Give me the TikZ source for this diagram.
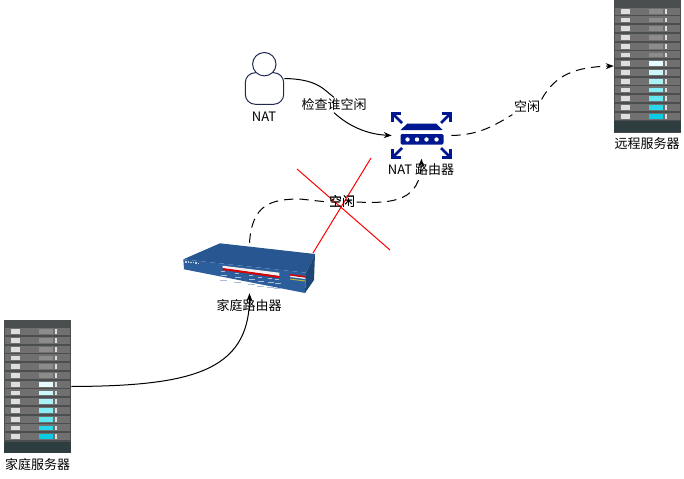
\documentclass[tikz,border=0pt]{standalone}
\usepackage{fontspec}
\setmainfont{Noto Sans CJK SC}
\usetikzlibrary{arrows.meta}

\definecolor{rackbody}{HTML}{4A4E4E}
\definecolor{rackrow}{HTML}{707070}
\definecolor{rackfoot}{HTML}{2E3D3F}
\definecolor{rackdim}{HTML}{8C8C8C}
\definecolor{rackwhite}{HTML}{DEDEDE}
\definecolor{lita}{HTML}{E4FCFE}
\definecolor{litb}{HTML}{CCF8FB}
\definecolor{litc}{HTML}{ABF2F6}
\definecolor{litd}{HTML}{84EEF4}
\definecolor{lite}{HTML}{62E6F0}
\definecolor{litf}{HTML}{2AD6EC}
\definecolor{litg}{HTML}{08CCE8}
\definecolor{navyicon}{HTML}{00188F}
\definecolor{personline}{HTML}{1F2A52}
\definecolor{boxtop}{HTML}{285690}
\definecolor{boxfront}{HTML}{2C5E9C}
\definecolor{boxside}{HTML}{1D4677}

\tikzset{
  rack/.style={rectangle, inner sep=0pt, minimum width=50.25pt, minimum height=99.75pt, fill=rackbody},
  boxzone/.style={rectangle, inner sep=0pt},
  tag/.style={inner sep=1pt, font=\fontsize{9.75}{12}\selectfont},
  edgetag/.style={tag, fill=white},
  conn/.style={line width=0.75pt, -{Stealth[length=6pt,width=4.5pt]}},
  connplain/.style={line width=0.75pt},
  dashes/.style={dash pattern=on 7pt off 4.5pt},
  cross/.style={red, line width=0.75pt}
}

% rows of one rack, drawn from the corner of its node
\newcommand{\rackrows}[1]{
\begin{scope}[shift={(#1.north west)}]
\fill[rackfoot] (0,122) rectangle (67,133);
\foreach \rownum/\litcol in {0/rackdim,1/rackdim,2/rackdim,3/rackdim,4/rackdim,5/rackdim,
  6/lita,7/litb,8/litc,9/litd,10/lite,11/litf,12/litg} {
  \fill[rackrow] (1.5,{8.5+\rownum*8.75}) rectangle (66,{15.5+\rownum*8.75});
  \fill[rackwhite] (7,{9.7+\rownum*8.75}) rectangle (16.5,{14.3+\rownum*8.75});
  \fill[\litcol] (35.5,{9.7+\rownum*8.75}) rectangle (49,{14.3+\rownum*8.75});
  \fill[rackwhite] (51,{9.7+\rownum*8.75}) rectangle (53.5,{14.3+\rownum*8.75});
}
\end{scope}
}

\begin{document}
\begin{tikzpicture}[x=0.75pt, y=-0.75pt]
\useasboundingbox (0,0) rectangle (684,478);

% places
\node[rack] (homeserver) at (37.5,386.5) {};
\node[rack] (remoteserver) at (647.5,66) {};
\node[boxzone, minimum width=99.75pt, minimum height=37.5pt] (homerouter) at (249.5,268) {};
\node[boxzone, minimum width=44.25pt, minimum height=34.5pt] (natrouter) at (421.5,135.5) {};
\node[boxzone, minimum width=29.25pt, minimum height=38.25pt] (natuser) at (264.5,78.5) {};

\rackrows{homeserver}
\rackrows{remoteserver}

% blue box
\fill[boxtop] (220,243.3) -- (315,254) -- (306,272.7) -- (183.3,259.3) -- cycle;
\fill[boxfront] (183.3,259.3) -- (306,272.7) -- (305,293) -- (184,269.3) -- cycle;
\fill[boxside] (315,254) -- (314,280) -- (305,293) -- (306,272.7) -- cycle;
\fill[white!88!gray] (222.7,265.7) -- (279.3,272.7) -- (279.3,276) -- (222.7,268.3) -- cycle;
\fill[red!85!black] (222.7,268) -- (279.3,276) -- (279.3,278) -- (222.7,270) -- cycle;
\fill[white!85!gray] (290,275.5) -- (305,277.5) -- (305,279) -- (290,277) -- cycle;
\fill[red!85!black] (290,274) -- (305,276) -- (305,277.5) -- (290,275.5) -- cycle;
\fill[yellow!70!black] (290,278.5) -- (305,280.5) -- (305,281.5) -- (290,279.5) -- cycle;
\foreach \px in {0,1,2,3,4,5} {
  \fill[white!70!boxfront] ({185+\px*2.5},{261+\px*0.3}) rectangle ({186.5+\px*2.5},{262.5+\px*0.3});
}
\foreach \px/\py in {221/271,235/273,249/275,258/277,268/278,275/279} {
  \fill[white!60!boxfront] (\px,\py) rectangle ({\px+4},{\py+1});
  \fill[white!60!boxfront] (\px,{\py+4}) rectangle ({\px+6},{\py+5});
  \fill[white!60!boxfront] ({\px-1},{\py+9}) rectangle ({\px+6},{\py+10});
}

% small blue icon
\begin{scope}[shift={(natrouter.center)}]
\fill[navyicon] (-14,-12) -- (14.5,-12) -- (21,-5.5) -- (-21,-5.5) -- cycle;
\fill[navyicon, rounded corners=1pt] (-21,-1.5) rectangle (22,9);
\foreach \px in {-14,-4.5,5,15} {
  \fill[white] (\px,4) circle (2.2);
}
\foreach \sx/\sy in {-1/-1,1/-1,-1/1,1/1} {
  \draw[navyicon, line width=1.9pt] (\sx*29,\sy*13.5) -- (\sx*29,\sy*22) -- (\sx*20.5,\sy*22);
  \draw[navyicon, line width=1.9pt] (\sx*28,\sy*21) -- (\sx*19.5,\sy*12.5);
}
\end{scope}

% person
\draw[personline, fill=white, rounded corners=7.5pt, line width=0.75pt] (245.3,72.7) rectangle (283.7,104.3);
\draw[personline, fill=white, line width=0.75pt] (264.3,64.2) circle (11.7);

% tags on connectors
\node[edgetag] (checktag) at (334,105) {检查谁空闲};
\node[edgetag] (idletaghome) at (342,202) {空闲};
\node[edgetag] (idletagremote) at (527,107) {空闲};

\draw[connplain] (natuser.east) .. controls (318,79) and (324,90) .. (checktag.north);
\draw[conn] (checktag.south) .. controls (344,122) and (362,134) .. (natrouter.west);
\draw[conn] (homeserver.east) .. controls (190,386) and (249,372) .. (homerouter.south);
\draw[connplain, dashes] (homerouter.north) .. controls (252,205) and (270,199) .. (300,199) -- (idletaghome.west);
\draw[conn, dashes] (idletaghome.east) .. controls (395,204) and (420,200) .. (natrouter.south);
\draw[connplain, dashes] (natrouter.east) .. controls (480,135) and (495,125) .. (idletagremote.south west);
\draw[conn, dashes] (idletagremote.north east) .. controls (555,75) and (575,67) .. (remoteserver.west);

\draw[cross] (297,169) -- (390,250);
\draw[cross] (371,158) -- (313,253);
\node[tag] (idletagtext) at (342,202) {空闲};

% names under things
\node[tag] (natname) at (264,117) {NAT};
\node[tag] (natroutername) at (421,170) {NAT 路由器};
\node[tag] (homeroutername) at (249,306) {家庭路由器};
\node[tag] (homeservername) at (37.5,465) {家庭服务器};
\node[tag] (remoteservername) at (647,144) {远程服务器};

\end{tikzpicture}
\end{document}
